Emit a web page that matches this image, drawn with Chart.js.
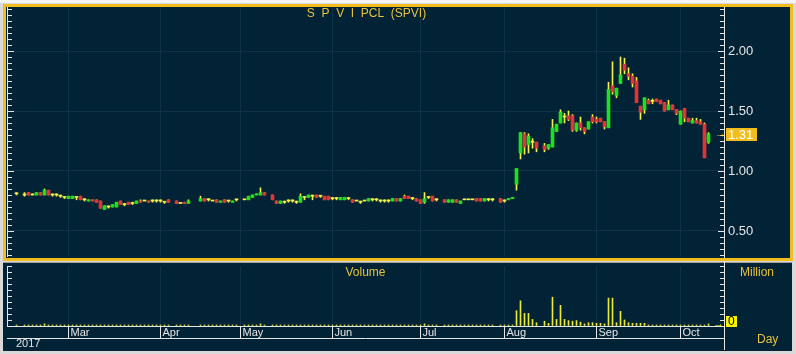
<!DOCTYPE html>
<html>
<head>
<meta charset="utf-8">
<script src="https://cdn.jsdelivr.net/npm/chart.js@4.4.1/dist/chart.umd.min.js"></script>
<style>
  html, body { margin: 0; padding: 0; background: #d9d9d9; }
  body { width: 796px; height: 354px; position: relative; overflow: hidden; }
  #topStrip { position: absolute; left: 0; top: 0; width: 796px; height: 3px; background: #f4f4f4; }
  #frame { position: absolute; left: 3px; top: 4px; width: 790px; height: 257px; box-sizing: border-box;
           border: 3px solid #f1bd1f; background: #022236; }
  #volPanel { position: absolute; left: 3px; top: 262px; width: 789px; height: 89px; box-sizing: border-box;
              border-top: 1px solid #9c9c9c; background: #022236; }
  canvas { position: absolute; left: 0; }
  #price { top: 0; }
  #vol { top: 262px; }
</style>
</head>
<body>
<div id="topStrip"></div>
<div id="frame"></div>
<div id="volPanel"></div>
<canvas id="price" width="796" height="262"></canvas>
<canvas id="vol" width="796" height="92"></canvas>
<script>
// trading-day slots, Feb 10 2017 .. Oct 11 2017 (null = market holiday)
const monthTicks = [13, 36, 56, 79, 101, 122, 145, 166];
const monthLabels = ['Mar', 'Apr', 'May', 'Jun', 'Jul', 'Aug', 'Sep', 'Oct'];
const priceTicks = [0.5, 1.0, 1.5, 2.0];

const openP = [
  .81, null, .80, .82, .80, .80, .82, .80, .84, .80,
  .80, .79, .78, .77, .77, .78, .79, .76, .75, .76,
  .76, .75, .68, .70, .70, .70, .75, .72, .74, .73,
  .73, .75, .75, .75, .75, .75, .75, .74, .76, null,
  .75, .73, .74, .73, null, null, .75, .77, .76, .75,
  .76, .74, .76, .75, .74, .76, null, .76, .76, .78,
  .80, .80, .82, null, .80, .75, .73, .74, .75, .75,
  .74, .74, .78, .78, .79, .80, .79, .79, .79, .77,
  .77, .76, .76, .77, .76, .75, .74, .75, .75, .76,
  .76, .75, .75, .75, .75, .77, .75, .79, .79, .77,
  .77, .76, .74, .78, .79, .76, null, .76, .74, .74,
  .76, .73, .76, .76, .76, .77, .77, .75, .76, .76,
  null, .77, .75, .76, .77, .89, 1.15, 1.31, 1.22, 1.24,
  1.24, null, 1.21, 1.19, 1.20, 1.33, 1.40, 1.45, 1.46, 1.46,
  1.34, 1.40, 1.36, 1.35, 1.45, 1.43, 1.44, 1.41, 1.36, 1.71,
  1.63, 1.73, 1.89, 1.81, 1.79, 1.75, 1.54, 1.51, 1.59, 1.58,
  1.60, 1.59, 1.57, 1.51, 1.55, 1.51, 1.39, 1.52, 1.44, 1.40,
  1.42, 1.41, 1.39, 1.24
];
const highP = [
  .82, null, .82, .82, .81, .82, .82, .85, .84, .81,
  .81, .80, .78, .79, .79, .78, .79, .77, .76, .76,
  .76, .75, .71, .71, .72, .74, .75, .73, .74, .74,
  .75, .76, .75, .75, .76, .76, .76, .74, .76, null,
  .75, .73, .74, .76, null, null, .79, .77, .77, .75,
  .76, .75, .76, .75, .75, .76, null, .76, .79, .80,
  .81, .86, .82, null, .80, .75, .75, .75, .76, .76,
  .75, .81, .78, .80, .80, .80, .79, .79, .79, .78,
  .78, .78, .78, .78, .76, .75, .75, .75, .77, .77,
  .77, .76, .76, .76, .77, .77, .77, .80, .79, .78,
  .77, .76, .82, .78, .79, .77, null, .76, .76, .76,
  .76, .75, .76, .76, .76, .77, .77, .77, .77, .77,
  null, .77, .76, .77, .78, 1.02, 1.32, 1.32, 1.31, 1.27,
  1.24, null, 1.23, 1.22, 1.43, 1.39, 1.51, 1.48, 1.50, 1.47,
  1.40, 1.45, 1.36, 1.41, 1.47, 1.45, 1.44, 1.41, 1.74, 1.91,
  1.69, 1.95, 1.94, 1.86, 1.81, 1.78, 1.54, 1.61, 1.60, 1.60,
  1.60, 1.59, 1.57, 1.59, 1.55, 1.51, 1.50, 1.52, 1.44, 1.44,
  1.44, 1.43, 1.40, 1.32
];
const lowP = [
  .80, null, .79, .80, .80, .80, .80, .80, .80, .79,
  .79, .78, .77, .77, .77, .76, .76, .75, .75, .75,
  .74, .69, .68, .69, .70, .70, .72, .71, .72, .72,
  .73, .74, .75, .74, .74, .74, .74, .73, .74, null,
  .73, .73, .73, .73, null, null, .75, .75, .75, .75,
  .74, .74, .74, .74, .74, .75, null, .76, .76, .78,
  .80, .80, .80, null, .76, .73, .73, .73, .74, .74,
  .73, .74, .76, .78, .76, .78, .78, .76, .76, .76,
  .76, .76, .76, .76, .74, .75, .73, .75, .75, .75,
  .75, .74, .74, .74, .75, .75, .75, .77, .77, .76,
  .75, .73, .73, .77, .75, .75, null, .74, .74, .74,
  .74, .73, .76, .76, .76, .75, .75, .75, .75, .75,
  null, .74, .74, .76, .77, .84, 1.10, 1.14, 1.15, 1.19,
  1.16, null, 1.16, 1.18, 1.20, 1.33, 1.40, 1.40, 1.42, 1.33,
  1.33, 1.34, 1.31, 1.35, 1.40, 1.40, 1.41, 1.35, 1.36, 1.64,
  1.61, 1.73, 1.81, 1.76, 1.70, 1.57, 1.43, 1.48, 1.56, 1.56,
  1.58, 1.56, 1.50, 1.51, 1.51, 1.47, 1.39, 1.41, 1.41, 1.40,
  1.40, 1.39, 1.11, 1.23
];
const closeP = [
  .81, null, .80, .80, .80, .82, .80, .84, .80, .80,
  .80, .79, .78, .79, .79, .78, .76, .76, .76, .75,
  .74, .69, .71, .70, .72, .74, .72, .72, .72, .73,
  .75, .74, .75, .74, .75, .75, .75, .74, .74, null,
  .73, .73, .73, .75, null, null, .77, .75, .76, .75,
  .74, .75, .74, .75, .75, .76, null, .76, .79, .80,
  .81, .82, .80, null, .76, .73, .75, .74, .75, .75,
  .74, .79, .78, .80, .79, .78, .79, .76, .76, .77,
  .77, .78, .78, .77, .74, .75, .74, .75, .77, .76,
  .76, .75, .75, .75, .77, .75, .77, .77, .77, .77,
  .75, .73, .77, .78, .75, .76, null, .74, .76, .76,
  .74, .75, .76, .76, .76, .75, .75, .77, .76, .76,
  null, .74, .75, .77, .78, 1.02, 1.32, 1.20, 1.29, 1.24,
  1.19, null, 1.18, 1.22, 1.36, 1.39, 1.49, 1.45, 1.43, 1.34,
  1.40, 1.36, 1.33, 1.41, 1.41, 1.41, 1.41, 1.37, 1.68, 1.66,
  1.69, 1.80, 1.84, 1.79, 1.73, 1.57, 1.49, 1.61, 1.56, 1.58,
  1.58, 1.56, 1.50, 1.55, 1.51, 1.48, 1.50, 1.44, 1.41, 1.42,
  1.40, 1.39, 1.11, 1.31
];
// volume, million shares
const volume = [
  .15, null, .15, .15, .15, .15, .15, .35, .15, .15,
  .15, .15, .15, .15, .15, .15, .15, .15, .15, .15,
  .15, .15, .15, .15, .15, .15, .15, .15, .15, .15,
  .15, .15, .15, .15, .15, .15, .15, .15, .15, null,
  .15, .15, .15, .15, null, null, .15, .15, .15, .15,
  .15, .15, .15, .15, .15, .15, null, .15, .15, .15,
  .15, .35, .15, null, .15, .15, .15, .15, .15, .15,
  .15, .15, .15, .15, .15, .15, .15, .15, .15, .15,
  .15, .15, .15, .15, .15, .15, .15, .15, .15, .15,
  .15, .15, .15, .15, .15, .15, .15, .15, .15, .15,
  .15, .15, .35, .15, .15, .15, null, .15, .15, .15,
  .15, .15, .15, .15, .15, .15, .15, .15, .15, .15,
  null, .15, .15, .15, .15, 2.55, 4.2, 2.1, 2.1, 1.1,
  .55, null, .8, .45, 4.8, 1.1, 3.45, 1.1, .9, .8,
  .9, .65, .35, .55, .55, .45, .45, .35, 4.65, 4.65,
  .55, 2.45, 1.0, .55, .45, .45, .45, .45, .15, .15,
  .15, .15, .15, .15, .15, .15, .15, .15, .15, .15,
  .15, .15, .15, .35
];

const UP = '#1fe01f', DOWN = '#e23434', WICK = '#f2f24a', DOJI = '#f2f24a';
const GOLD = '#f1bd1f', TITLE = '#e8c23e', GRID = '#0e3249', AXIS = '#e6e6e6';
const FONT = '"Liberation Sans", Arial, sans-serif';
const X_MIN = -2.375, X_MAX = 176.875;

const days = openP.map((v, i) => i).filter(i => openP[i] !== null);
const bodyData = days.map(i => ({ x: i, y: [openP[i], closeP[i]] }));
const bodyColors = days.map(i => closeP[i] > openP[i] ? UP : (closeP[i] < openP[i] ? DOWN : DOJI));
const wickData = days.map(i => ({ x: i, y: [lowP[i], highP[i]] }));
const volData = days.map(i => ({ x: i, y: volume[i] }));

// keep the plot box fixed: no extra room for edge labels
function noPad(s) {
  s.paddingTop = 0; s.paddingBottom = 0; s.paddingLeft = 0; s.paddingRight = 0;
}

// short tick marks pointing into the plot on both side axes
function innerTicks(ctx, a, scale, step, majorEvery) {
  ctx.save();
  ctx.strokeStyle = AXIS;
  ctx.lineWidth = 1;
  ctx.beginPath();
  ctx.moveTo(a.left + 0.5, a.top);
  ctx.lineTo(a.left + 0.5, a.bottom);
  const n0 = Math.ceil(scale.min / step - 1e-6), n1 = Math.floor(scale.max / step + 1e-6);
  for (let n = n0; n <= n1; n++) {
    const y = Math.round(scale.getPixelForValue(n * step)) + 0.5;
    const len = n % majorEvery === 0 ? 7 : 5;
    ctx.moveTo(a.left, y); ctx.lineTo(a.left + len, y);
    ctx.moveTo(a.right - len + 1, y); ctx.lineTo(a.right, y);
  }
  ctx.stroke();
  ctx.restore();
}

const priceDeco = {
  id: 'priceDeco',
  afterDraw(chart) {
    const { ctx, chartArea: a, scales: { y } } = chart;
    innerTicks(ctx, a, y, 0.05, 10);
    ctx.save();
    ctx.font = '12px ' + FONT;
    ctx.fillStyle = TITLE;
    ctx.textAlign = 'center';
    ctx.textBaseline = 'middle';
    ctx.fillText('S  P  V  I  PCL  (SPVI)', (a.left + a.right) / 2 + 1, 14);

    const last = closeP[closeP.length - 1];
    const py = Math.round(y.getPixelForValue(last));
    ctx.fillStyle = GOLD;
    ctx.fillRect(a.right + 2, py - 6, 31, 13);
    ctx.fillStyle = '#ffffff';
    ctx.font = '13px ' + FONT;
    ctx.textAlign = 'left';
    ctx.fillText(last.toFixed(2), a.right + 4, py + 1);
    ctx.fillStyle = GOLD;
    ctx.font = '11px ' + FONT;
    ctx.fillText('\u2192', a.right - 9, py);
    ctx.restore();
  }
};

const volDeco = {
  id: 'volDeco',
  afterDraw(chart) {
    const { ctx, chartArea: a, scales: { y } } = chart;
    innerTicks(ctx, a, y, 1, 100);
    ctx.save();
    ctx.strokeStyle = AXIS;
    ctx.beginPath();
    ctx.moveTo(a.left, 76.5); ctx.lineTo(a.right, 76.5);
    ctx.moveTo(a.right + 0.5, 0); ctx.lineTo(a.right + 0.5, 88);
    ctx.stroke();

    ctx.fillStyle = TITLE;
    ctx.font = '12px ' + FONT;
    ctx.textBaseline = 'middle';
    ctx.textAlign = 'center';
    ctx.fillText('Volume', (a.left + a.right) / 2, 11);
    ctx.textAlign = 'left';
    ctx.fillText('Million', 740, 11);
    ctx.fillText('Day', 757, 78);

    ctx.fillStyle = AXIS;
    ctx.font = '11px ' + FONT;
    ctx.fillText('2017', 16, 82);

    const y0 = Math.round(y.getPixelForValue(0));
    ctx.fillStyle = '#f4f400';
    ctx.fillRect(a.right + 2, y0 - 10, 11, 11);
    ctx.fillStyle = '#000000';
    ctx.font = '12px ' + FONT;
    ctx.fillText('0', a.right + 4, y0 - 4);
    ctx.fillStyle = '#f4f400';
    ctx.font = '11px ' + FONT;
    ctx.fillText('\u2192', a.right - 11, y0 - 2);
    ctx.restore();
  }
};

const xBase = {
  type: 'linear', min: X_MIN, max: X_MAX, offset: false,
  afterBuildTicks: s => { s.ticks = monthTicks.map(v => ({ value: v })); }
};

new Chart(document.getElementById('price'), {
  type: 'bar',
  data: {
    datasets: [
      { data: bodyData, backgroundColor: bodyColors, barThickness: 3, minBarLength: 1, grouped: false, order: 0 },
      { data: wickData, backgroundColor: WICK, barThickness: 1, grouped: false, order: 1 }
    ]
  },
  options: {
    responsive: false,
    animation: false,
    events: [],
    layout: { padding: { left: 7, top: 7, right: 0, bottom: 5 } },
    plugins: { legend: { display: false }, tooltip: { enabled: false } },
    scales: {
      x: Object.assign({}, xBase, {
        afterFit: s => { s.height = 0; noPad(s); },
        ticks: { display: false },
        grid: { color: GRID, drawTicks: false, offset: false },
        border: { display: false }
      }),
      y: {
        position: 'right', min: 0.2833, max: 2.3667,
        afterBuildTicks: s => { s.ticks = priceTicks.map(v => ({ value: v })); },
        afterFit: s => { s.width = 72; noPad(s); },
        ticks: { color: AXIS, font: { family: FONT, size: 13 }, padding: 4, callback: v => v.toFixed(2) },
        grid: { color: GRID, drawTicks: false },
        border: { color: AXIS }
      }
    }
  },
  plugins: [priceDeco]
});

new Chart(document.getElementById('vol'), {
  type: 'bar',
  data: {
    datasets: [
      { data: volData, backgroundColor: '#eaea3c', barThickness: 1, minBarLength: 1, grouped: false }
    ]
  },
  options: {
    responsive: false,
    animation: false,
    events: [],
    layout: { padding: { left: 7, top: 4, right: 0, bottom: 0 } },
    plugins: { legend: { display: false }, tooltip: { enabled: false } },
    scales: {
      x: Object.assign({}, xBase, {
        position: 'bottom',
        afterFit: s => { s.height = 28; noPad(s); },
        ticks: { color: AXIS, font: { family: FONT, size: 11 }, align: 'start', padding: -12, labelOffset: 2,
                 maxRotation: 0, autoSkip: false, callback: (v, i) => monthLabels[i] },
        grid: { color: GRID, tickColor: AXIS, tickLength: 12, offset: false },
        border: { color: AXIS }
      }),
      y: {
        position: 'right', min: 0, max: 10,
        afterFit: s => { s.width = 72; noPad(s); },
        ticks: { display: false },
        grid: { drawOnChartArea: false, drawTicks: false },
        border: { color: AXIS }
      }
    }
  },
  plugins: [volDeco]
});
</script>
</body>
</html>
